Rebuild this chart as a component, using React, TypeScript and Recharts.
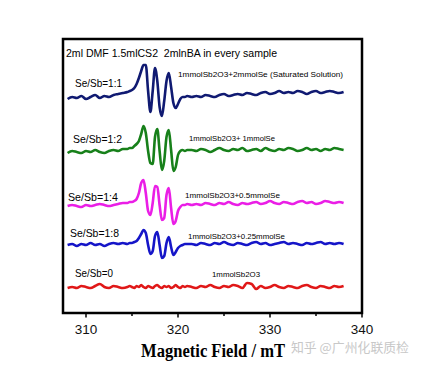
import { Customized, Line, LineChart, ReferenceArea, XAxis, YAxis } from 'recharts'

// magnetic field (mT): coarse on the flat parts, finer across the hyperfine lines
const field = [
  308, 308.5, 309, 309.5, 310, 310.5, 311, 311.5, 312, 312.5, 313, 313.5, 314,
  314.5, 314.75, 315, 315.25, 315.5, 315.75, 316, 316.25, 316.5, 316.75, 317,
  317.25, 317.5, 317.75, 318, 318.25, 318.5, 318.75, 319, 319.25, 319.5, 319.75,
  320, 320.25, 320.5, 320.75, 321,
  321.5, 322, 322.5, 323, 323.5, 324, 324.5, 325, 325.5, 326, 326.5, 327, 327.5,
  328, 328.5, 329, 329.5, 330, 330.5, 331, 331.5, 332, 332.5, 333, 333.5, 334,
  334.5, 335, 335.5, 336, 336.5, 337, 337.5, 338,
]

// intensities, a.u. (traces stacked with an offset)
const se11 = [
  214, 216, 215, 217, 214, 216, 218, 215, 217, 216, 218, 219, 220,
  221, 222, 223, 225, 229, 235, 242, 248, 248, 222, 201,
  222, 245, 232, 206, 197, 212, 232, 240, 226, 210, 205,
  209, 214, 216, 216, 217,
  216, 217, 216, 218, 217, 216, 218, 219, 217, 218, 219, 218, 220,
  219, 218, 220, 221, 219, 220, 222, 220, 221, 220, 222, 221, 219,
  221, 222, 220, 221, 222, 221, 220, 221,
]
const se12 = [
  160, 162, 161, 160, 162, 161, 163, 161, 160, 162, 163, 162, 164,
  164, 165, 165, 167, 169, 172, 179, 187, 180, 162, 150,
  149, 176, 184, 162, 143, 152, 176, 183, 163, 142, 146,
  158, 162, 163, 162, 163,
  163, 162, 164, 163, 161, 163, 165, 163, 162, 164, 163, 165, 162,
  163, 164, 162, 165, 163, 162, 164, 163, 165, 164, 162, 163, 165,
  163, 164, 162, 164, 163, 165, 164, 163,
]
const se14 = [
  107, 108, 107, 106, 108, 107, 108, 109, 108, 107, 108, 109, 110,
  110, 111, 111, 112, 114, 120, 130, 133, 120, 102, 98,
  110, 127, 126, 108, 93, 95, 118, 125, 105, 89, 92,
  102, 106, 108, 108, 109,
  108, 109, 108, 110, 109, 108, 110, 109, 111, 109, 108, 110, 109,
  110, 111, 109, 110, 112, 110, 109, 111, 110, 109, 111, 112, 110,
  111, 109, 110, 112, 111, 110, 111, 110,
]
const se18 = [
  68, 69, 67, 69, 68, 70, 68, 69, 67, 69, 70, 69, 70,
  69, 70, 70, 71, 72, 75, 79, 83, 80, 68, 59,
  62, 77, 81, 68, 55, 57, 70, 76, 66, 58, 61,
  65, 67, 68, 69, 69,
  69, 68, 70, 69, 68, 70, 69, 71, 69, 68, 70, 69, 68,
  70, 71, 69, 70, 68, 69, 70, 71, 69, 70, 69, 68, 70,
  69, 70, 71, 69, 70, 69, 70, 69,
]
const se0 = [
  25, 26, 25, 27, 26, 25, 27, 29, 26, 25, 27, 26, 25,
  26, 27, 26, 25, 27, 26, 28, 26, 25, 27, 26,
  25, 27, 28, 26, 25, 27, 26, 27, 25, 26, 28,
  26, 25, 27, 26, 27,
  26, 25, 27, 26, 28, 26, 25, 27, 26, 28, 27, 25, 30,
  29, 24, 27, 25, 26, 28, 26, 25, 27, 26, 25, 27, 28,
  26, 25, 27, 26, 25, 27, 26, 27,
]

const fieldDomain = [307.5, 340]
const yDomain = [0, 274]
const xTicks = [310, 315, 320, 325, 330, 335, 340]
const labeledTicks = [310, 320, 330, 340]

const data = field.map((f, i) => ({
  field: f,
  se11: se11[i],
  se12: se12[i],
  se14: se14[i],
  se18: se18[i],
  se0: se0[i],
}))

const sans = '"Liberation Sans", Arial, sans-serif'

function FieldTick({ x, y, payload }: any) {
  const major = labeledTicks.includes(payload.value)
  return (
    <g>
      <line x1={x} x2={x} y1={y} y2={y + (major ? 4.5 : 3)} stroke="#000" strokeWidth={1.5} />
      {major && (
        <text x={x} y={y + 21} textAnchor="middle" fontSize={13.5} fontFamily={sans} fill="#111">
          {payload.value}
        </text>
      )}
    </g>
  )
}

function Notes() {
  const t = (x: number, y: number, s: string, size: number, len?: number) => (
    <text
      x={x}
      y={y}
      fontSize={size}
      fontFamily={sans}
      fill="#000"
      textLength={len}
      lengthAdjust="spacingAndGlyphs"
      style={{ whiteSpace: 'pre' }}
    >
      {s}
    </text>
  )
  return (
    <g>
      {t(66, 57, '2ml DMF 1.5mlCS2  2mlnBA in every sample', 11, 211)}
      {t(75, 87, 'Se/Sb=1:1', 11.5, 47)}
      {t(178, 77, '1mmolSb2O3+2mmolSe (Saturated Solution)', 7.5, 165)}
      {t(73, 143, 'Se/Sb=1:2', 11.5, 49)}
      {t(189, 141, '1mmolSb2O3+ 1mmolSe', 7.5, 86)}
      {t(68, 201, 'Se/Sb=1:4', 11.5, 50)}
      {t(185, 198, '1mmolSb2O3+0.5mmolSe', 7.5, 95)}
      {t(70, 237, 'Se/Sb=1:8', 11.5, 49)}
      {t(188, 239, '1mmolSb2O3+0.25mmolSe', 7.5, 97)}
      {t(75, 277, 'Se/Sb=0', 11.5, 38)}
      {t(212, 277, '1mmolSb2O3', 7.5, 48)}
      <text
        x={141}
        y={357}
        fontSize={18}
        fontWeight="bold"
        fontFamily='"Liberation Serif", "Times New Roman", serif'
        fill="#000"
        textLength={144}
        lengthAdjust="spacingAndGlyphs"
      >
        Magnetic Field / mT
      </text>
      <text
        x={291}
        y={352}
        fontSize={13}
        fontFamily='"Noto Sans CJK SC", sans-serif'
        fill="#c8c8c8"
        textLength={118}
        lengthAdjust="spacingAndGlyphs"
      >
        知乎 @广州化联质检
      </text>
    </g>
  )
}

export default function App() {
  return (
    <div style={{ position: 'absolute', left: 0, top: 0, background: '#fff' }}>
      <LineChart
        width={422}
        height={365}
        data={data}
        margin={{ top: 39, right: 60, left: 63, bottom: 22 }}
      >
        <XAxis
          dataKey="field"
          type="number"
          domain={fieldDomain}
          ticks={xTicks}
          height={30}
          tick={<FieldTick />}
          tickLine={false}
          tickSize={0}
          tickMargin={0}
          interval={0}
          axisLine={false}
          allowDataOverflow
        />
        <YAxis type="number" domain={yDomain} width={0} tick={false} tickLine={false} axisLine={false} />
        <ReferenceArea
          x1={fieldDomain[0]}
          x2={fieldDomain[1]}
          y1={yDomain[0]}
          y2={yDomain[1]}
          fill="none"
          stroke="#000"
          strokeWidth={2.5}
          ifOverflow="visible"
        />
        <Line dataKey="se11" type="monotone" stroke="#101a72" strokeWidth={2.6} dot={false} isAnimationActive={false} />
        <Line dataKey="se12" type="monotone" stroke="#17801a" strokeWidth={2.6} dot={false} isAnimationActive={false} />
        <Line dataKey="se14" type="monotone" stroke="#ea1ee6" strokeWidth={2.6} dot={false} isAnimationActive={false} />
        <Line dataKey="se18" type="monotone" stroke="#1515c8" strokeWidth={2.6} dot={false} isAnimationActive={false} />
        <Line dataKey="se0" type="monotone" stroke="#e01818" strokeWidth={2.6} dot={false} isAnimationActive={false} />
        <Customized component={Notes} />
      </LineChart>
    </div>
  )
}
